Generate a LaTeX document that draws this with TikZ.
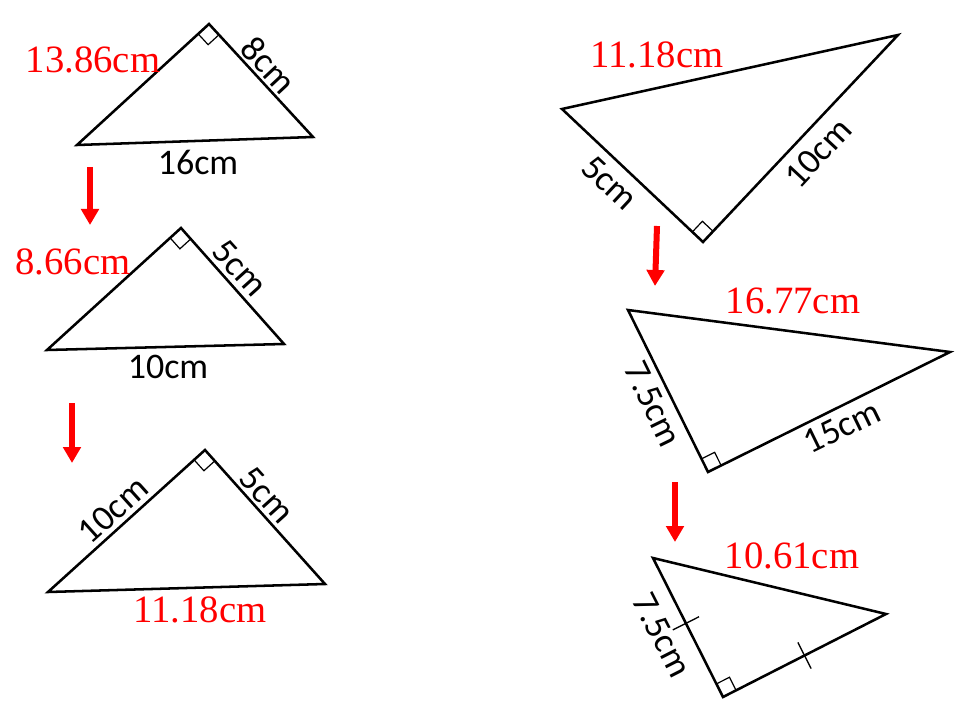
\documentclass[tikz,border=0pt]{standalone}
\usepackage{fontspec}
\setmainfont{Carlito}
\newfontfamily\redserif{Liberation Serif}
\usetikzlibrary{arrows.meta,calc}
\begin{document}
\begin{tikzpicture}[x=0.75pt,y=-0.75pt,
  tri/.style={draw=black,line width=1.9pt,line join=miter},
  ramark/.style={draw=black,line width=0.9pt},
  blk/.style={font=\fontsize{27}{30}\selectfont,text=black,inner sep=0pt},
  redl/.style={font=\redserif\fontsize{29}{32}\selectfont,text=red,inner sep=0pt},
  downarrow/.style={draw=red,line width=4.5pt,-{Triangle[width=13pt,length=12pt]}},
  tick/.style={draw=black,line width=1pt}]
\useasboundingbox (0,0) rectangle (960,720);
% Triangle 1
\coordinate (a1) at (77,145); \coordinate (b1) at (209,24); \coordinate (c1) at (313,137);
\draw[tri] (a1) -- (b1) -- (c1) -- cycle;
\node[redl] (l1a) at (93,60) {13.86cm};
\node[blk,rotate=-47] (l1b) at (269,65) {8cm};
\node[blk] (l1c) at (198,162) {16cm};
% Arrow 1
\coordinate (s1) at (90,167); \coordinate (e1) at (90,225);
\draw[downarrow] (s1) -- (e1);
% Triangle 2
\coordinate (a2) at (47,350); \coordinate (b2) at (181,228); \coordinate (c2) at (284,344);
\draw[tri] (a2) -- (b2) -- (c2) -- cycle;
\node[redl] (l2a) at (73,262) {8.66cm};
\node[blk,rotate=-48] (l2b) at (240,268) {5cm};
\node[blk] (l2c) at (168,367) {10cm};
% Arrow 2
\coordinate (s2) at (72,403); \coordinate (e2) at (72,463);
\draw[downarrow] (s2) -- (e2);
% Triangle 3
\coordinate (a3) at (48,592); \coordinate (b3) at (205,450); \coordinate (c3) at (325,584);
\draw[tri] (a3) -- (b3) -- (c3) -- cycle;
\node[blk,rotate=42] (l3a) at (113,510) {10cm};
\node[blk,rotate=-48] (l3b) at (267,495) {5cm};
\node[redl] (l3c) at (200,610) {11.18cm};
% Triangle 4
\coordinate (a4) at (562,109); \coordinate (b4) at (898,35); \coordinate (c4) at (703,242);
\draw[tri] (a4) -- (b4) -- (c4) -- cycle;
\node[redl] (l4a) at (657,55) {11.18cm};
\node[blk,rotate=-43] (l4b) at (610,183) {5cm};
\node[blk,rotate=47] (l4c) at (818,153) {10cm};
% Arrow 3
\coordinate (s3) at (657,226); \coordinate (e3) at (655,286);
\draw[downarrow] (s3) -- (e3);
% Triangle 5
\coordinate (a5) at (628,310); \coordinate (b5) at (950,352); \coordinate (c5) at (708,472);
\draw[tri] (a5) -- (b5) -- (c5) -- cycle;
\node[redl] (l5a) at (793,301) {16.77cm};
\node[blk,rotate=-64] (l5b) at (653,404) {7.5cm};
\node[blk,rotate=26] (l5c) at (842,427) {15cm};
% Arrow 4
\coordinate (s4) at (675,482); \coordinate (e4) at (675,542);
\draw[downarrow] (s4) -- (e4);
% Triangle 6
\coordinate (a6) at (653,558); \coordinate (b6) at (886,614); \coordinate (c6) at (723,697);
\draw[tri] (a6) -- (b6) -- (c6) -- cycle;
\node[redl] (l6a) at (792,556) {10.61cm};
\node[blk,rotate=-63] (l6b) at (662,635) {7.5cm};
% right-angle marks (vertex at b1,b2,b3,c4,c5,c6)
\foreach \v/\p/\q in {b1/a1/c1, b2/a2/c2, b3/a3/c3, c4/a4/b4, c5/a5/b5, c6/a6/b6}{
  \coordinate (m1) at ($(\v)!11pt!(\p)$);
  \coordinate (m2) at ($(\v)!11pt!(\q)$);
  \draw[ramark] (m1) -- ($(m1)+(m2)-(\v)$) -- (m2);
}
% tick marks on triangle 6
\coordinate (t1) at ($(a6)!0.47!(c6)$);
\coordinate (t2) at ($(c6)!0.5!(b6)$);
\draw[tick] ($(t1)!11pt!90:(c6)$) -- ($(t1)!11pt!-90:(c6)$);
\draw[tick] ($(t2)!11pt!90:(b6)$) -- ($(t2)!11pt!-90:(b6)$);
\end{tikzpicture}
\end{document}
